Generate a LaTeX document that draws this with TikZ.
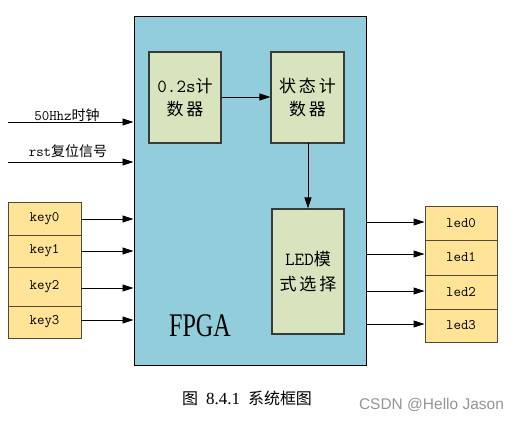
\documentclass[tikz,border=0pt]{standalone}
\usepackage{fontspec}
\setmainfont{Liberation Serif}
\newfontfamily\cjk{Noto Sans CJK SC}
\newcommand\mono{\ttfamily}
\newfontfamily\wsans{Liberation Sans}
\usetikzlibrary{arrows.meta}
\definecolor{fpgablue}{HTML}{92CDDC}
\definecolor{boxgreen}{HTML}{D7E4BD}
\definecolor{ioyellow}{HTML}{FFE497}
\definecolor{edgegray}{HTML}{3A3A3A}
\newcommand\boxmono[1]{{\mono\fontsize{18.5}{24}\selectfont #1}}
\tikzset{
  fpgabox/.style={draw=black, line width=1pt, fill=fpgablue, minimum width=232pt, minimum height=349pt, inner sep=0pt},
  funcbox/.style={draw=edgegray, line width=1.2pt, fill=boxgreen, inner sep=0pt, align=center, font=\fontsize{17}{24}\selectfont},
  iobox/.style={draw=edgegray!80!brown, line width=0.9pt, fill=ioyellow, inner sep=0pt, minimum width=73pt, font=\mono\fontsize{14.5}{15}\selectfont},
  sig/.style={draw=black, line width=0.9pt, -{Triangle[length=11pt,width=7pt]}},
  lbl/.style={inner sep=0pt, font=\fontsize{14.5}{15}\selectfont}
}
\begin{document}
\begin{tikzpicture}[x=1pt,y=-1pt]
\useasboundingbox (0,0) rectangle (520,421);
% FPGA
\node[fpgabox] (fpga) at (250,190.5) {};
\node[inner sep=0pt] (fpgalbl) at (200,326) {\scalebox{0.73}[1]{\fontsize{33}{33}\selectfont FPGA}};
% functional blocks
\node[funcbox, minimum width=72pt, minimum height=91pt] (cnt) at (185,97.5)
  {\boxmono{0.2s}{\cjk 计}\\[-1pt]{\cjk 数\,器}};
\node[funcbox, minimum width=73pt, minimum height=91pt] (state) at (307.5,97.5)
  {{\cjk 状\,态\,计}\\[-1pt]{\cjk 数\,器}};
\node[funcbox, minimum width=72pt, minimum height=125pt] (led) at (308,271.5)
  {\boxmono{LED}{\cjk 模}\\[1pt]{\cjk 式\,选\,择}};
\draw[sig] (cnt.east |- 0,97) -- (state.west |- 0,97);
\draw[sig] (308,143) -- (led.north);
% clock and reset
\coordinate (clk) at (8,122);
\coordinate (rst) at (8,162);
\draw[sig] (clk) -- (fpga.west |- clk);
\draw[sig] (rst) -- (fpga.west |- rst);
\node[lbl] (clklbl) at (67,115) {{\mono 50Hhz}{\cjk\fontsize{14}{15}\selectfont 时钟}};
\node[lbl] (rstlbl) at (68,151) {{\mono rst}{\cjk\fontsize{14}{15}\selectfont 复位信号}};
% keys
\node[iobox, minimum height=33pt] (k0) at (44.5,218.5) {key0};
\node[iobox, minimum height=32pt] (k1) at (44.5,251) {key1};
\node[iobox, minimum height=39pt] (k2) at (44.5,286.5) {key2};
\node[iobox, minimum height=32pt] (k3) at (44.5,322) {key3};
\draw[sig] (k0.east |- 0,219) -- (fpga.west |- 0,219);
\draw[sig] (k1.east |- 0,251) -- (fpga.west |- 0,251);
\draw[sig] (k2.east |- 0,288) -- (fpga.west |- 0,288);
\draw[sig] (k3.east |- 0,320) -- (fpga.west |- 0,320);
% leds
\node[iobox, minimum width=72pt, minimum height=34pt] (l0) at (461,223) {led0};
\node[iobox, minimum width=72pt, minimum height=35pt] (l1) at (461,257.5) {led1};
\node[iobox, minimum width=72pt, minimum height=34pt] (l2) at (461,292) {led2};
\node[iobox, minimum width=72pt, minimum height=33pt] (l3) at (461,325.5) {led3};
\draw[sig] (fpga.east |- 0,222) -- (l0.west |- 0,222);
\draw[sig] (fpga.east |- 0,254) -- (l1.west |- 0,254);
\draw[sig] (fpga.east |- 0,291) -- (l2.west |- 0,291);
\draw[sig] (fpga.east |- 0,324) -- (l3.west |- 0,324);
% caption and watermark
\node[inner sep=0pt, font=\fontsize{17}{19}\selectfont] (cap) at (247,398) {{\cjk\fontsize{16}{19}\selectfont 图}\hspace{8pt}8.4.1\hspace{8pt}{\cjk\fontsize{16}{19}\selectfont 系统框图}};
\node[inner sep=0pt, text=black!42, font=\wsans\fontsize{15.5}{17}\selectfont] (wm) at (431.5,405) {CSDN @Hello Jason};
\end{tikzpicture}
\end{document}
